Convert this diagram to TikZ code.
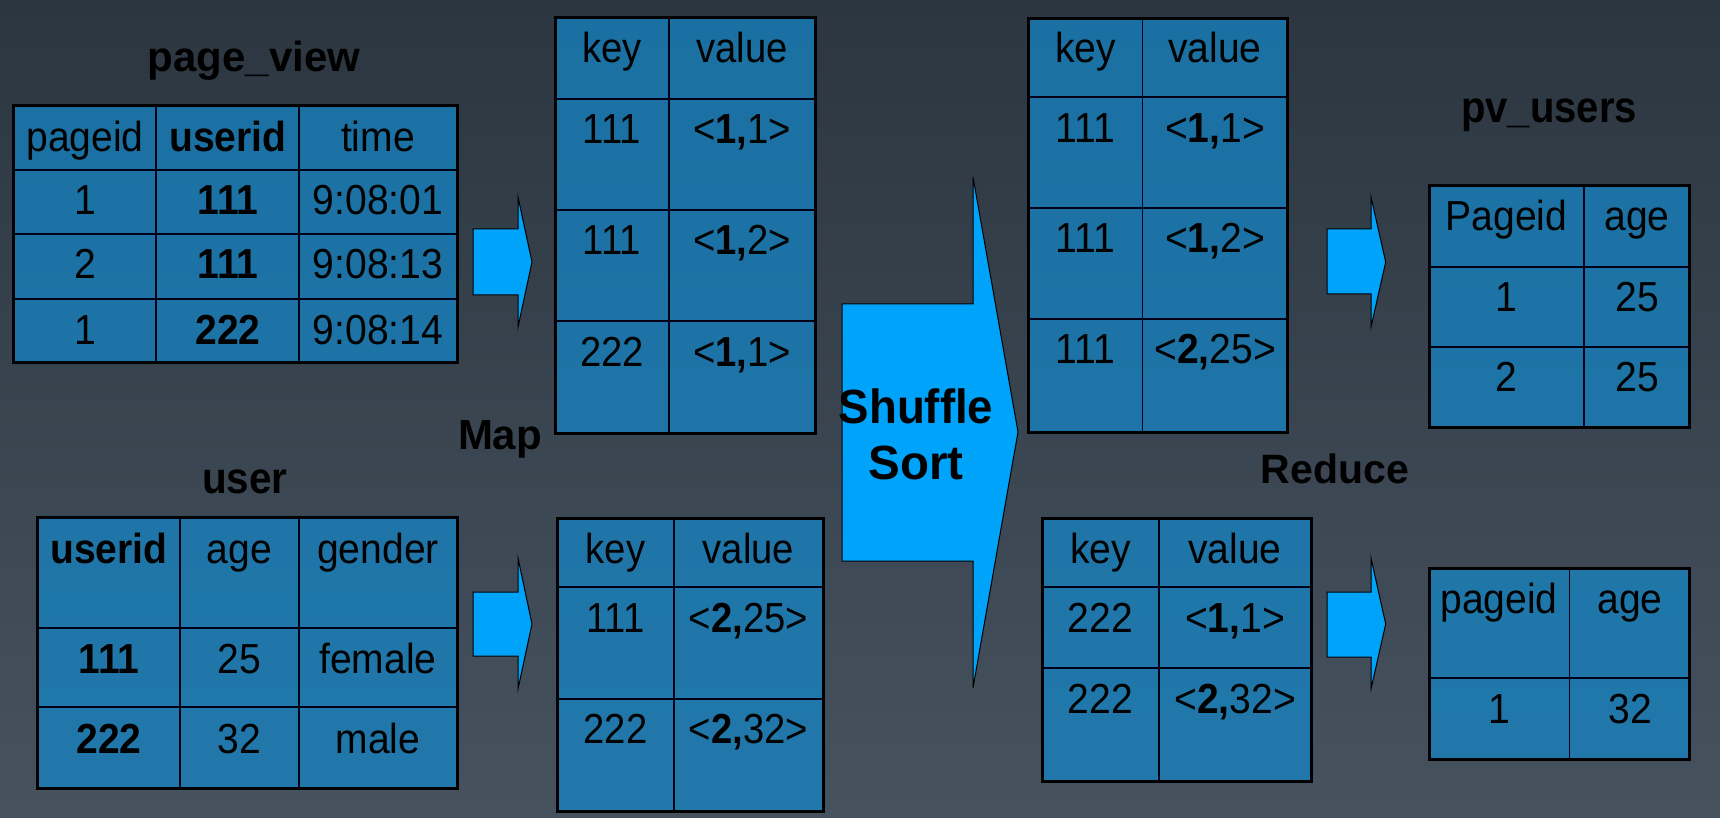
\documentclass[tikz,border=0pt]{standalone}
\usepackage{fontspec}
\setmainfont{Liberation Sans}
\definecolor{bgtop}{RGB}{43,54,64}
\definecolor{bgbot}{RGB}{70,82,94}
\definecolor{tabc}{RGB}{20,135,200}
\definecolor{arrc}{RGB}{0,163,250}
\newcommand\sx[2]{\scalebox{#1}[1]{#2}}
\newcommand\cA[1]{\scalebox{.93}[1]{#1}}
\newcommand\cB[1]{\scalebox{.91}[1]{#1}}
\newcommand\cC[1]{\scalebox{.93}[1]{#1}}
\tikzset{
  cell/.style={inner sep=0pt, anchor=base, font=\fontsize{21}{25}\selectfont, text=black},
  ttl/.style={inner sep=0pt, anchor=base, text=black},
  tabbody/.style={fill=tabc, fill opacity=0.72},
  innerline/.style={draw=black!90!blue, line width=0.7pt},
  border/.style={draw=black, line width=1.5pt},
  bigarrow/.style={fill=arrc, draw=black, line width=0.5pt, line join=miter}
}
\newcommand\tablegrid[6]{%
  \fill[tabbody] (#1,#2) rectangle (#3,#4);
  \foreach \c in {#5} \draw[innerline] (\c,#2) -- (\c,#4);
  \foreach \r in {#6} \draw[innerline] (#1,\r) -- (#3,\r);
  \draw[border] (#1,#2) rectangle (#3,#4);}
\begin{document}
\begin{tikzpicture}[x=0.5pt,y=-0.5pt]
\shade[top color=bgtop, bottom color=bgbot] (0,0) rectangle (1720,818);
\useasboundingbox (0,0) rectangle (1720,818);

% ---------- page_view ----------
\node[ttl, font=\bfseries\fontsize{21}{25}\selectfont] (tpv) at (254,72) {page\_view};
\tablegrid{13.6}{106}{457}{363}{156,299}{170,234,299}
\node[cell] (pv00) at (85,152) {\cA{pageid}};
\node[cell] (pv01) at (228,152) {\cA{\textbf{userid}}};
\node[cell] (pv02) at (378,152) {\cA{time}};
\node[cell] (pv10) at (85,215) {\cA{1}};
\node[cell] (pv11) at (228,215) {\cA{\textbf{111}}};
\node[cell] (pv12) at (378,215) {\cA{9:08:01}};
\node[cell] (pv20) at (85,279) {\cA{2}};
\node[cell] (pv21) at (228,279) {\cA{\textbf{111}}};
\node[cell] (pv22) at (378,279) {\cA{9:08:13}};
\node[cell] (pv30) at (85,344) {\cA{1}};
\node[cell] (pv31) at (228,344) {\cA{\textbf{222}}};
\node[cell] (pv32) at (378,344) {\cA{9:08:14}};

% ---------- user ----------
\node[ttl, font=\bfseries\fontsize{22}{26}\selectfont] (tus) at (245,494) {\sx{.92}{user}};
\tablegrid{37.5}{517}{457}{788}{180,299}{628,707}
\node[cell] (us00) at (109,563) {\cA{\textbf{userid}}};
\node[cell] (us01) at (239.5,563) {\cA{age}};
\node[cell] (us02) at (378,563) {\cA{gender}};
\node[cell] (us10) at (109,673) {\cA{\textbf{111}}};
\node[cell] (us11) at (239.5,673) {\cA{25}};
\node[cell] (us12) at (378,673) {\cA{female}};
\node[cell] (us20) at (109,753) {\cA{\textbf{222}}};
\node[cell] (us21) at (239.5,753) {\cA{32}};
\node[cell] (us22) at (378,753) {\cA{male}};

% ---------- Map arrows ----------
\draw[bigarrow] (473,229) -- (518,229) -- (518,197) -- (532,262) -- (518,327) -- (518,295) -- (473,295) -- cycle;
\draw[bigarrow] (473,592) -- (518,592) -- (518,558) -- (532,624) -- (518,689) -- (518,656) -- (473,656) -- cycle;
\node[ttl, font=\bfseries\fontsize{21}{25}\selectfont] (tmap) at (500,450) {Map};

% ---------- Map output (top) ----------
\tablegrid{555}{18}{815}{433}{669}{99,210,321}
\node[cell] (ma00) at (612,63) {\cB{key}};
\node[cell] (ma01) at (742,63) {\cB{value}};
\node[cell] (ma10) at (612,144) {\cB{111}};
\node[cell] (ma11) at (742,144) {\cB{<\textbf{1,}1>}};
\node[cell] (ma20) at (612,255) {\cB{111}};
\node[cell] (ma21) at (742,255) {\cB{<\textbf{1,}2>}};
\node[cell] (ma30) at (612,366) {\cB{222}};
\node[cell] (ma31) at (742,366) {\cB{<\textbf{1,}1>}};

% ---------- Map output (bottom) ----------
\tablegrid{557}{518}{823}{811}{674}{587,699}
\node[cell] (mb00) at (615.5,563) {\cB{key}};
\node[cell] (mb01) at (748.5,563) {\cB{value}};
\node[cell] (mb10) at (615.5,632) {\cB{111}};
\node[cell] (mb11) at (748.5,632) {\cB{<\textbf{2,}25>}};
\node[cell] (mb20) at (615.5,743) {\cB{222}};
\node[cell] (mb21) at (748.5,743) {\cB{<\textbf{2,}32>}};

% ---------- Shuffle / Sort arrow ----------
\draw[bigarrow] (842,304) -- (973,304) -- (973,177) -- (1018,432) -- (973,688) -- (973,561) -- (842,561) -- cycle;
\node[ttl, font=\bfseries\fontsize{24}{28}\selectfont] (tshuf) at (916,423) {\sx{.95}{Shuffle}};
\node[ttl, font=\bfseries\fontsize{24}{28}\selectfont] (tsort) at (916,480) {\sx{.99}{Sort}};

% ---------- Sorted (top) ----------
\tablegrid{1028.5}{19}{1287.5}{432}{1142.4}{97,208,319}
\node[cell] (sa00) at (1085.5,63) {\cC{key}};
\node[cell] (sa01) at (1215,63) {\cC{value}};
\node[cell] (sa10) at (1085.5,143) {\cC{111}};
\node[cell] (sa11) at (1215,143) {\cC{<\textbf{1,}1>}};
\node[cell] (sa20) at (1085.5,253) {\cC{111}};
\node[cell] (sa21) at (1215,253) {\cC{<\textbf{1,}2>}};
\node[cell] (sa30) at (1085.5,364) {\cC{111}};
\node[cell] (sa31) at (1215,364) {\cC{<\textbf{2,}25>}};

% ---------- Sorted (bottom) ----------
\node[ttl, font=\bfseries\fontsize{20.5}{24}\selectfont] (tred) at (1335,483) {Reduce};
\tablegrid{1042}{518}{1311}{781}{1159}{587,668}
\node[cell] (sb00) at (1100.5,563) {\cC{key}};
\node[cell] (sb01) at (1235,563) {\cC{value}};
\node[cell] (sb10) at (1100.5,632) {\cC{222}};
\node[cell] (sb11) at (1235,632) {\cC{<\textbf{1,}1>}};
\node[cell] (sb20) at (1100.5,713) {\cC{222}};
\node[cell] (sb21) at (1235,713) {\cC{<\textbf{2,}32>}};

% ---------- Reduce arrows ----------
\draw[bigarrow] (1327,229) -- (1371,229) -- (1371,197) -- (1385.7,262) -- (1371,327) -- (1371,294) -- (1327,294) -- cycle;
\draw[bigarrow] (1327,592) -- (1371,592) -- (1371,558) -- (1385.7,624) -- (1371,689) -- (1371,657) -- (1327,657) -- cycle;

% ---------- pv_users ----------
\node[ttl, font=\bfseries\fontsize{22}{26}\selectfont] (tpvu) at (1549,123) {\sx{.91}{pv\_users}};
\tablegrid{1429}{186}{1689.7}{427}{1584}{267,347}
\node[cell] (pu00) at (1506.5,231) {\cC{Pageid}};
\node[cell] (pu01) at (1637,231) {\cC{age}};
\node[cell] (pu10) at (1506.5,312) {\cC{1}};
\node[cell] (pu11) at (1637,312) {\cC{25}};
\node[cell] (pu20) at (1506.5,392) {\cC{2}};
\node[cell] (pu21) at (1637,392) {\cC{25}};

% ---------- final (bottom) ----------
\tablegrid{1429}{568}{1689.7}{759}{1569.4}{678}
\node[cell] (pf00) at (1499,613) {\cC{pageid}};
\node[cell] (pf01) at (1630,613) {\cC{age}};
\node[cell] (pf10) at (1499,723) {\cC{1}};
\node[cell] (pf11) at (1630,723) {\cC{32}};
\end{tikzpicture}
\end{document}
